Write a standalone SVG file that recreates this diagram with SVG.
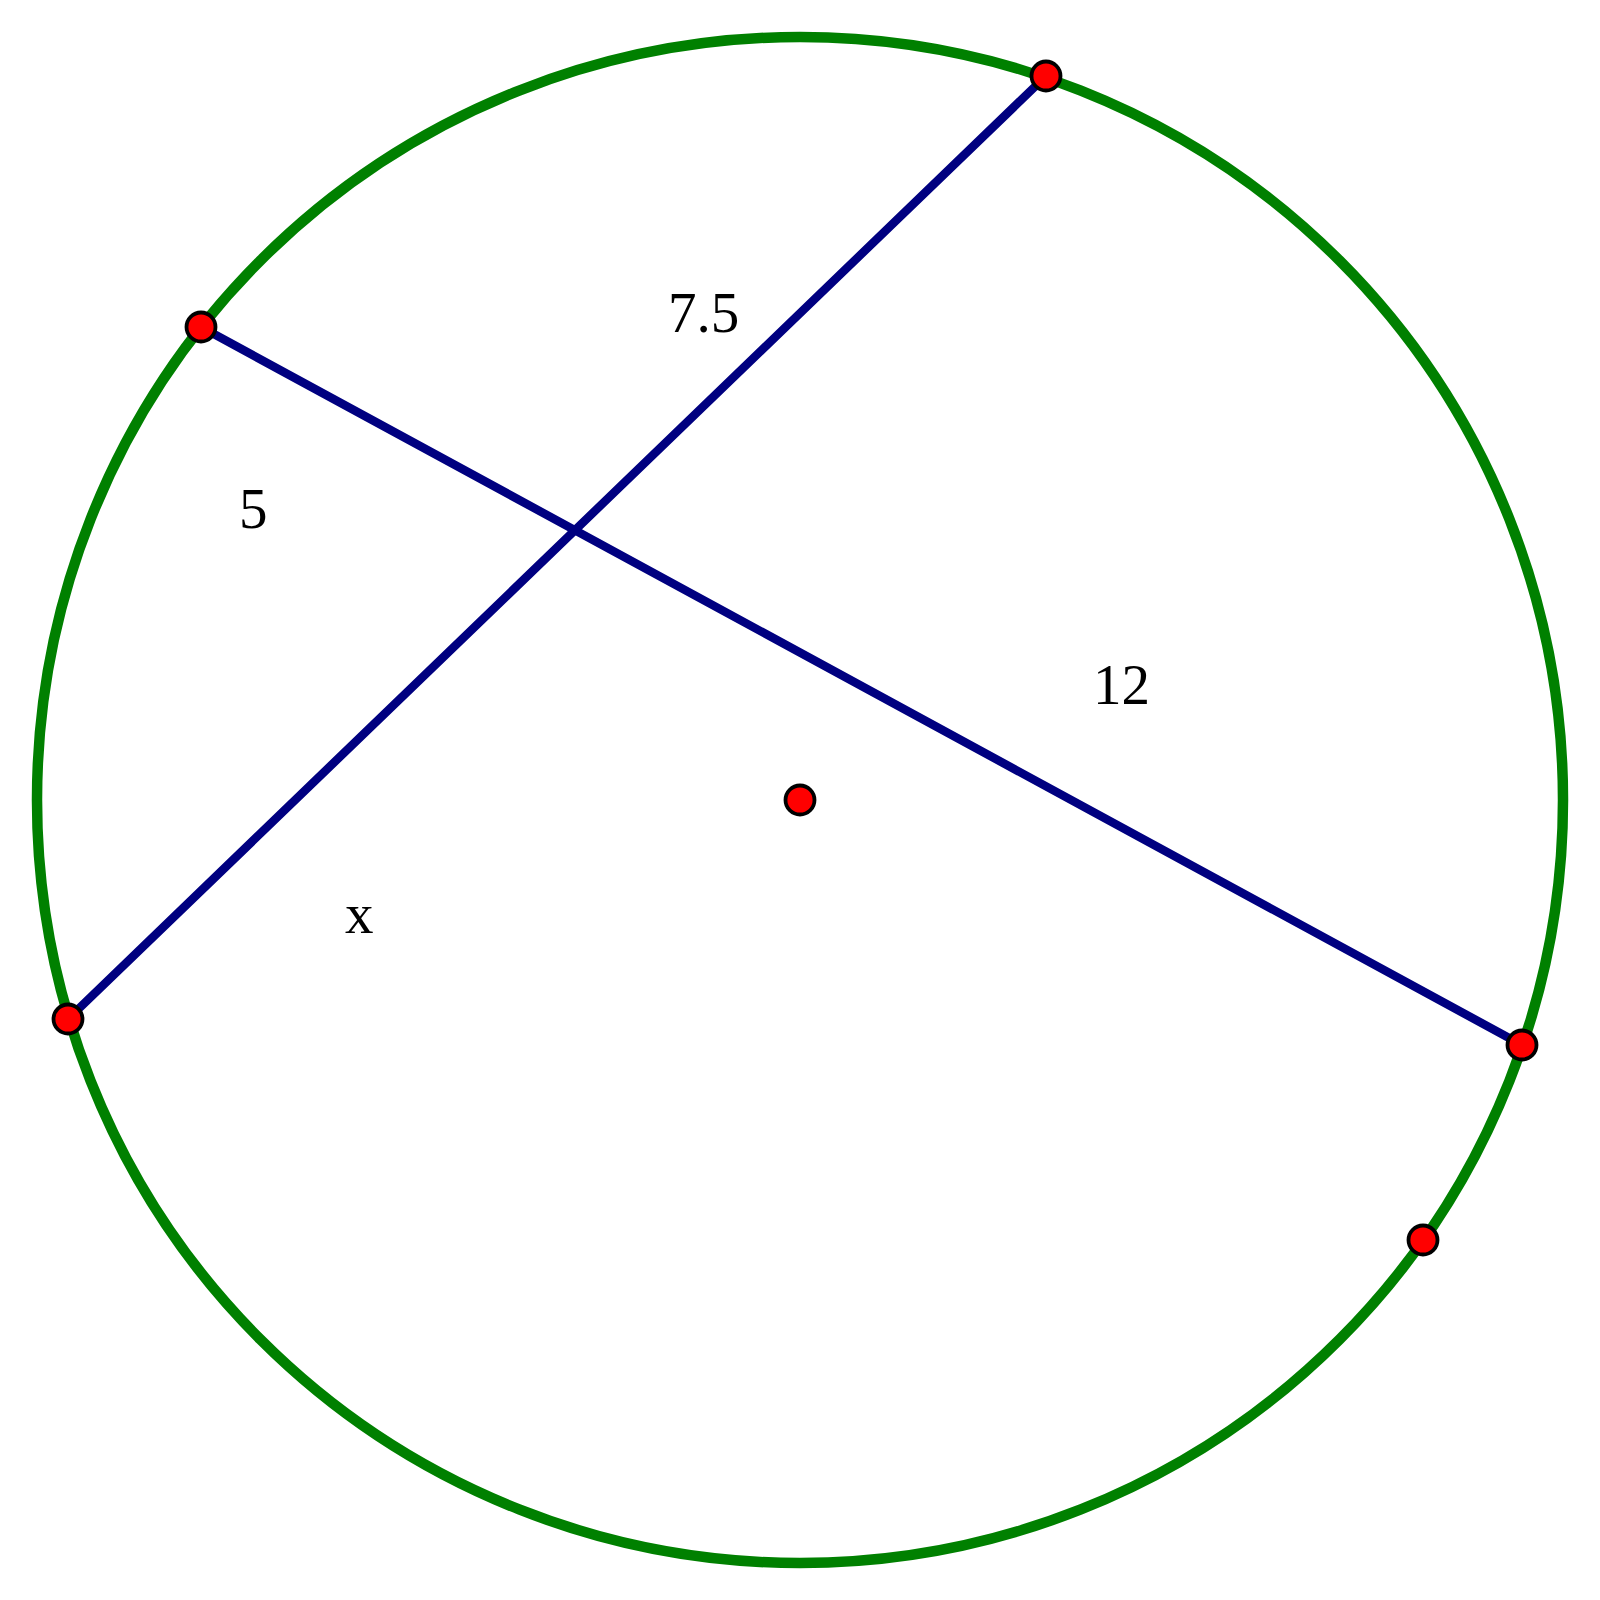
<svg xmlns="http://www.w3.org/2000/svg" width="1600" height="1600" viewBox="0 0 1600 1600">
<style>
.circ{fill:none;stroke:#008000;stroke-width:10.5}
.seg{stroke:#000080;stroke-width:8.5;stroke-linecap:round}
.pt{fill:#ff0000;stroke:#000000;stroke-width:3.8}
.lbl{font-family:"Liberation Serif","Times New Roman",serif;font-size:57px;fill:#000000}
</style>
<rect width="1600" height="1600" fill="#ffffff"/>
<g id="circle"><circle class="circ" cx="800" cy="800" r="763"/></g>
<g id="connectors">
<line class="seg" x1="1046" y1="76" x2="68" y2="1019"/>
<line class="seg" x1="201" y1="327" x2="1522" y2="1045"/>
</g>
<g id="labels">
<text class="lbl" x="668" y="332">7.5</text>
<text class="lbl" x="239" y="528">5</text>
<text class="lbl" x="1093" y="704">12</text>
<text class="lbl" x="345" y="933">x</text>
</g>
<g id="pA"><circle class="pt" cx="1046" cy="76" r="14.5"/></g>
<g id="pB"><circle class="pt" cx="201" cy="327" r="14.5"/></g>
<g id="pC"><circle class="pt" cx="68" cy="1019" r="14.5"/></g>
<g id="pD"><circle class="pt" cx="1522" cy="1045" r="14.5"/></g>
<g id="pE"><circle class="pt" cx="1423" cy="1240" r="14.5"/></g>
<g id="center"><circle class="pt" cx="800" cy="800" r="14.5"/></g>
</svg>
